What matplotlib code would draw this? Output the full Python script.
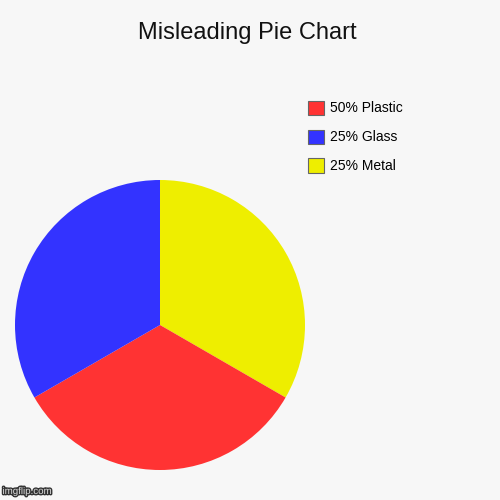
import matplotlib.pyplot as plt
from matplotlib.patches import Patch
import matplotlib.patheffects as pe

# slices drawn clockwise from 12 o'clock
labels = ['25% Metal', '50% Plastic', '25% Glass']
sizes = [1, 1, 1]
colors = ['#eeee00', '#ff3333', '#3333ff']

legend_order = ['50% Plastic', '25% Glass', '25% Metal']

fig = plt.figure(figsize=(5, 5), dpi=100, facecolor='#f7f7f7')
ax = fig.add_axes([0.03, 0.06, 0.58, 0.58])
ax.set_facecolor('#f7f7f7')
ax.pie(sizes, colors=colors, startangle=90, counterclock=False, radius=1)
ax.set_xlim(-1, 1)
ax.set_ylim(-1, 1)
ax.set_aspect('equal')

fig.text(0.495, 0.935, 'Misleading Pie Chart', ha='center', va='center',
         fontsize=17, family='Liberation Sans', color='#111111')

handles = [Patch(facecolor=colors[labels.index(l)], edgecolor='#666666', linewidth=0.8)
           for l in legend_order]
fig.legend(handles, legend_order, loc='upper left', bbox_to_anchor=(0.604, 0.81),
           frameon=False, prop={'family': 'Liberation Sans', 'size': 10},
           handlelength=1.2, handleheight=1.2, handletextpad=0.4, labelspacing=1.02,
           borderaxespad=0)

fig.text(0.005, 0.012, 'imgflip.com', fontsize=7, color='#dddddd', family='Liberation Sans',
         path_effects=[pe.withStroke(linewidth=2, foreground='#333333')])

fig.savefig('out.png', dpi=100, facecolor=fig.get_facecolor())
